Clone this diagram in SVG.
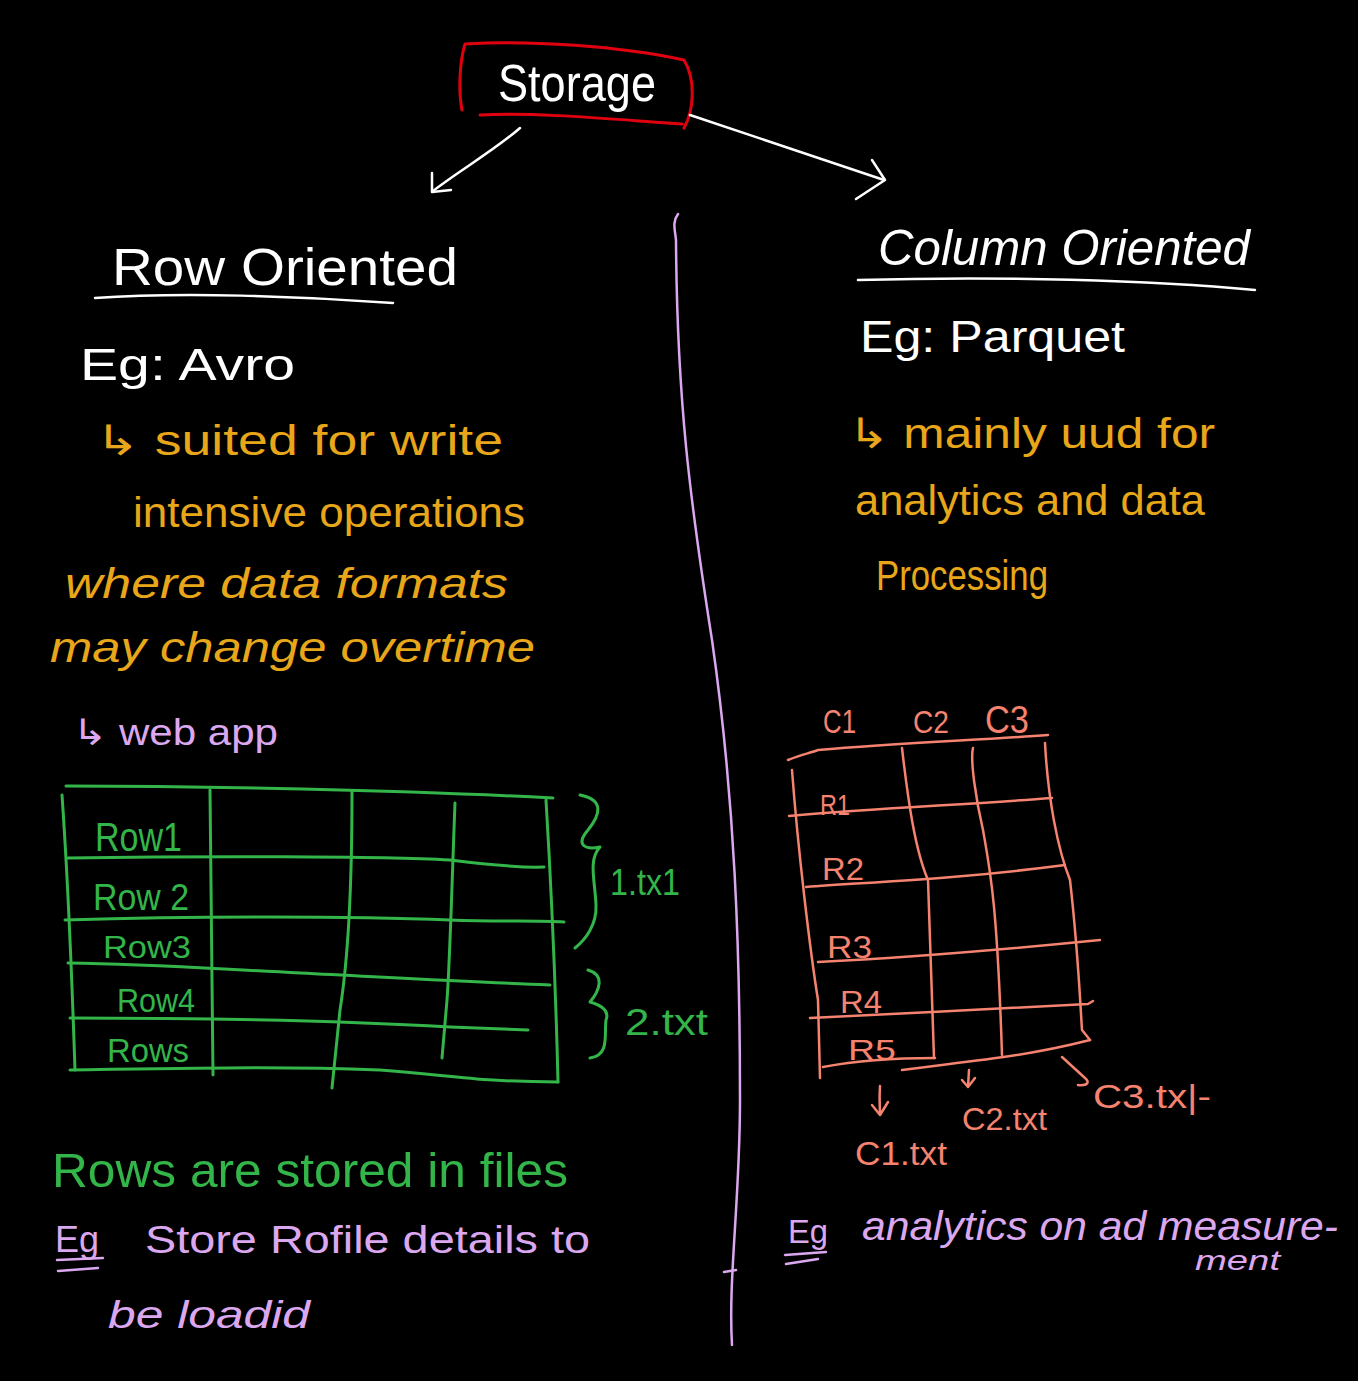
<svg xmlns="http://www.w3.org/2000/svg" width="1358" height="1381" viewBox="0 0 1358 1381">
<defs>
<style>
text{font-family:"Liberation Sans","DejaVu Sans",sans-serif;}
.w{fill:#ffffff;}
.o{fill:#e8a61a;}
.v{fill:#dba8f0;}
.g{fill:#33b54a;}
.s{fill:#f5836f;}
.ln{fill:none;stroke-linecap:round;stroke-linejoin:round;}
.wl{stroke:#ffffff;stroke-width:2.5;}
.gl{stroke:#33b54a;stroke-width:3;}
.sl{stroke:#f5836f;stroke-width:2.5;}
.vl{stroke:#dba8f0;stroke-width:2.5;}
.rl{stroke:#e0000f;stroke-width:3;}
</style>
</defs>
<rect width="1358" height="1381" fill="#000000"/>

<g id="storage">
<path class="ln rl" d="M462,110 C458,90 460,60 465,44 C530,40 620,46 684,60 C696,80 694,110 684,128"/>
<path class="ln rl" d="M480,115 C540,112 620,120 682,124"/>
<text class="w" x="498" y="101" font-size="52" textLength="158" lengthAdjust="spacingAndGlyphs">Storage</text>
</g>

<g id="connectors">
<path class="ln wl" d="M520,128 C495,150 460,170 433,191"/>
<path class="ln wl" d="M432,173 L432,192 L451,190"/>
<path class="ln wl" d="M690,115 L884,180"/>
<path class="ln wl" d="M872,160 L885,180 L856,199"/>
<path class="ln vl" d="M678,214 C672,222 675,230 676,240 C677,400 690,500 712,640 C735,800 740,950 740,1100 C740,1200 728,1280 732,1345"/>
<path class="ln vl" d="M724,1272 L736,1270"/>
</g>

<g id="row-oriented">
<text class="w" x="112" y="285" font-size="52" textLength="346" lengthAdjust="spacingAndGlyphs">Row  Oriented</text>
<path class="ln wl" d="M95,298 C180,292 300,296 393,303"/>
<text class="w" x="80" y="380" font-size="44" textLength="215" lengthAdjust="spacingAndGlyphs">Eg:  Avro</text>
<text class="o" x="95" y="455" font-size="42" textLength="408" lengthAdjust="spacingAndGlyphs">↳ suited  for  write</text>
<text class="o" x="133" y="527" font-size="42" textLength="392" lengthAdjust="spacingAndGlyphs">intensive  operations</text>
<text class="o" x="65" y="598" font-size="42" font-style="italic" textLength="443" lengthAdjust="spacingAndGlyphs">where  data  formats</text>
<text class="o" x="50" y="662" font-size="42" font-style="italic" textLength="485" lengthAdjust="spacingAndGlyphs">may  change  overtime</text>
<text class="v" x="72" y="745" font-size="36" textLength="206" lengthAdjust="spacingAndGlyphs">↳ web app</text>
</g>

<g id="row-table">
<path class="ln gl" d="M66,786 C200,786 400,790 553,798"/>
<path class="ln gl" d="M62,795 C68,880 72,980 75,1070"/>
<path class="ln gl" d="M546,800 C552,900 556,1000 558,1082"/>
<path class="ln gl" d="M210,790 L213,1075"/>
<path class="ln gl" d="M352,792 C352,880 348,960 340,1010 L332,1088"/>
<path class="ln gl" d="M455,803 C452,880 450,960 447,1000 L442,1058"/>
<path class="ln gl" d="M68,858 C200,856 380,856 450,860 C490,865 520,868 544,867"/>
<path class="ln gl" d="M65,920 C200,916 350,916 450,920 C500,922 540,920 564,922"/>
<path class="ln gl" d="M68,963 C150,964 200,968 300,973 C400,978 470,982 550,985"/>
<path class="ln gl" d="M70,1018 C200,1018 330,1020 450,1027 L528,1030"/>
<path class="ln gl" d="M70,1070 C200,1068 280,1066 380,1070 C450,1075 480,1082 558,1082"/>
<text class="g" x="95" y="851" font-size="40" textLength="87" lengthAdjust="spacingAndGlyphs">Row1</text>
<text class="g" x="93" y="910" font-size="36" textLength="96" lengthAdjust="spacingAndGlyphs">Row 2</text>
<text class="g" x="103" y="958" font-size="32" textLength="88" lengthAdjust="spacingAndGlyphs">Row3</text>
<text class="g" x="117" y="1012" font-size="34" textLength="78" lengthAdjust="spacingAndGlyphs">Row4</text>
<text class="g" x="107" y="1062" font-size="34" textLength="82" lengthAdjust="spacingAndGlyphs">Rows</text>
<path class="ln gl" d="M580,795 C605,800 600,815 588,830 C575,845 585,850 600,847 C588,860 595,880 596,905 C597,925 585,940 575,948"/>
<text class="g" x="610" y="895" font-size="36" textLength="70" lengthAdjust="spacingAndGlyphs">1.tx1</text>
<path class="ln gl" d="M588,970 C605,975 600,990 590,1002 C600,1005 610,1010 606,1020 C604,1035 610,1055 590,1058"/>
<text class="g" x="625" y="1035" font-size="36" textLength="83" lengthAdjust="spacingAndGlyphs">2.txt</text>
<text class="g" x="52" y="1187" font-size="48" textLength="516" lengthAdjust="spacingAndGlyphs">Rows  are  stored  in  files</text>
</g>

<g id="row-example">
<text class="v" x="55" y="1252" font-size="36" textLength="44" lengthAdjust="spacingAndGlyphs">Eg</text>
<path class="ln vl" d="M57,1260 L103,1258 M58,1271 L98,1268"/>
<text class="v" x="145" y="1253" font-size="38" textLength="445" lengthAdjust="spacingAndGlyphs">Store  Rofile details  to</text>
<text class="v" x="108" y="1328" font-size="38" font-style="italic" textLength="202" lengthAdjust="spacingAndGlyphs">be  loadid</text>
</g>

<g id="column-oriented">
<text class="w" x="878" y="265" font-size="50" font-style="italic" textLength="372" lengthAdjust="spacingAndGlyphs">Column  Oriented</text>
<path class="ln wl" d="M858,280 C1000,276 1150,280 1255,290"/>
<text class="w" x="860" y="352" font-size="44" textLength="265" lengthAdjust="spacingAndGlyphs">Eg:  Parquet</text>
<text class="o" x="848" y="448" font-size="42" textLength="367" lengthAdjust="spacingAndGlyphs">↳ mainly  uud  for</text>
<text class="o" x="855" y="515" font-size="42" textLength="350" lengthAdjust="spacingAndGlyphs">analytics  and  data</text>
<text class="o" x="876" y="590" font-size="42" textLength="172" lengthAdjust="spacingAndGlyphs">Processing</text>
</g>

<g id="column-table">
<text class="s" x="823" y="733" font-size="34" textLength="33" lengthAdjust="spacingAndGlyphs">C1</text>
<text class="s" x="913" y="733" font-size="32" textLength="36" lengthAdjust="spacingAndGlyphs">C2</text>
<text class="s" x="985" y="733" font-size="38" textLength="44" lengthAdjust="spacingAndGlyphs">C3</text>
<path class="ln sl" d="M788,760 C800,755 810,753 818,750 C900,743 980,740 1048,735"/>
<path class="ln sl" d="M792,770 C798,850 810,950 818,1000 L820,1078"/>
<path class="ln sl" d="M902,748 C908,800 915,850 928,880 L934,1058"/>
<path class="ln sl" d="M973,748 C970,760 976,800 983,830 C990,870 997,900 1002,1055"/>
<path class="ln sl" d="M1045,743 C1048,800 1058,850 1070,880 C1078,950 1080,1000 1082,1030 L1090,1040"/>
<path class="ln sl" d="M789,816 C880,808 960,805 1052,798"/>
<path class="ln sl" d="M806,887 C870,882 950,880 1065,865"/>
<path class="ln sl" d="M818,962 C900,958 1000,950 1100,940"/>
<path class="ln sl" d="M810,1018 C900,1014 1000,1008 1088,1004 L1093,1001"/>
<path class="ln sl" d="M823,1067 C860,1060 900,1058 935,1058"/>
<path class="ln sl" d="M902,1070 C960,1062 1020,1058 1090,1040"/>
<text class="s" x="820" y="815" font-size="30" textLength="30" lengthAdjust="spacingAndGlyphs">R1</text>
<text class="s" x="822" y="880" font-size="32" textLength="42" lengthAdjust="spacingAndGlyphs">R2</text>
<text class="s" x="827" y="958" font-size="32" textLength="45" lengthAdjust="spacingAndGlyphs">R3</text>
<text class="s" x="840" y="1013" font-size="32" textLength="42" lengthAdjust="spacingAndGlyphs">R4</text>
<text class="s" x="848" y="1060" font-size="30" textLength="48" lengthAdjust="spacingAndGlyphs">R5</text>
<path class="ln sl" d="M880,1086 C879,1100 880,1108 880,1115 M872,1105 L880,1115 L888,1102"/>
<text class="s" x="855" y="1165" font-size="34" textLength="92" lengthAdjust="spacingAndGlyphs">C1.txt</text>
<path class="ln sl" d="M969,1070 L968,1087 M962,1080 L968,1087 L975,1078"/>
<text class="s" x="962" y="1130" font-size="32" textLength="85" lengthAdjust="spacingAndGlyphs">C2.txt</text>
<path class="ln sl" d="M1062,1057 L1085,1078 C1090,1082 1088,1086 1078,1085"/>
<text class="s" x="1093" y="1108" font-size="34" textLength="118" lengthAdjust="spacingAndGlyphs">C3.tx|-</text>
</g>

<g id="column-example">
<text class="v" x="788" y="1243" font-size="34" textLength="40" lengthAdjust="spacingAndGlyphs">Eg</text>
<path class="ln vl" d="M785,1255 L826,1252 M786,1264 L818,1259"/>
<text class="v" x="862" y="1240" font-size="40" font-style="italic" textLength="476" lengthAdjust="spacingAndGlyphs">analytics  on  ad measure-</text>
<text class="v" x="1195" y="1270" font-size="28" font-style="italic" textLength="85" lengthAdjust="spacingAndGlyphs">ment</text>
</g>
</svg>
